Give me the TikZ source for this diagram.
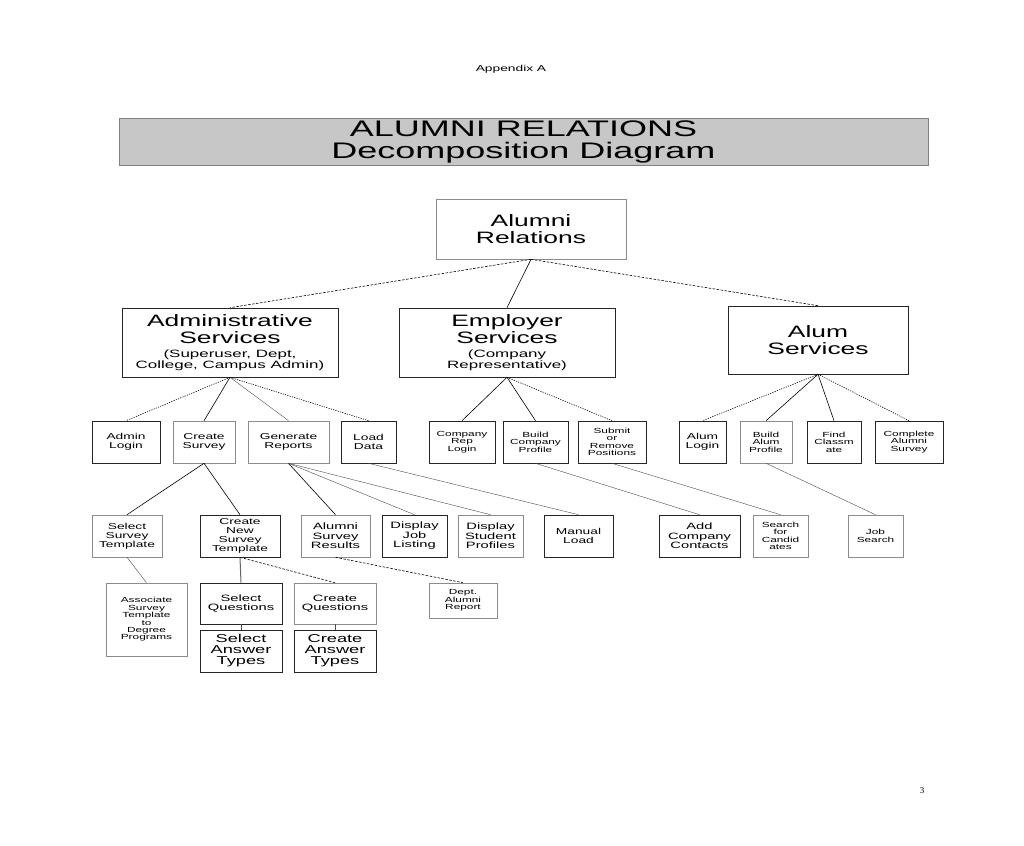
\documentclass[tikz,border=0pt]{standalone}
\usepackage{fontspec}
\setmainfont[FakeStretch=1.6]{Liberation Sans}
\newfontfamily\pagefont{Liberation Serif}
\newcommand{\subfont}{\fontsize{10.6}{11}\selectfont}
\usepackage{tikz}

\begin{document}
\begin{tikzpicture}[x=1pt, y=-1pt,
	box/.style={draw=black!85, line width=0.6pt, align=center, inner sep=0pt},
	gbox/.style={box, draw=black!45},
	row/.style={minimum height=42pt},
	fhead/.style={font=\fontsize{22.5}{22}\selectfont},
	fbig/.style={font=\fontsize{16.5}{17}\selectfont},
	flarge/.style={font=\fontsize{11.4}{11}\selectfont},
	fmid/.style={font=\fontsize{9.2}{9.4}\selectfont},
	fsmall/.style={font=\fontsize{8.6}{9}\selectfont},
	ftiny/.style={font=\fontsize{7.4}{7.4}\selectfont},
	link/.style={line width=0.6pt},
	flink/.style={line width=0.4pt, draw=black!70},
	dotlink/.style={line width=0.6pt, dash pattern=on 1.2pt off 1.2pt},
	dashlink/.style={line width=0.6pt, dash pattern=on 2.5pt off 1.5pt}]

	\fill[white] (0,0) rectangle (1024,845);
	\useasboundingbox (0,0) rectangle (1024,845);

	\node[fsmall] (appx) at (511,69) {Appendix A};
	\node[fhead, draw=black!50, fill=black!22, align=center, inner sep=0pt,
	      minimum width=809pt, minimum height=47pt] (title) at (523.5,141.5)
	      {ALUMNI RELATIONS\\Decomposition Diagram};

	% top two levels
	\node[gbox, fbig, minimum width=190pt, minimum height=60pt] (root) at (531,229) {Alumni\\Relations};
	\node[box, fbig, minimum width=216pt, minimum height=69pt] (admin) at (230,342.5)
	      {Administrative\\Services\\[-3pt]\subfont (Superuser, Dept,\\[-6pt]\subfont College, Campus Admin)};
	\node[box, fbig, minimum width=216pt, minimum height=69pt] (employer) at (507,342.5)
	      {Employer\\Services\\[-3pt]\subfont (Company\\[-6pt]\subfont Representative)};
	\node[box, fbig, minimum width=180pt, minimum height=68pt] (alum) at (818,340) {Alum\\Services};
	\draw[dashlink] (root.south) -- (admin.north);
	\draw[link]     (root.south) -- (employer.north);
	\draw[dashlink] (root.south) -- (alum.north);

	% services
	\node[box,  fsmall, row, minimum width=68pt] (alogin)    at (126,442)   {Admin\\Login};
	\node[gbox, fsmall, row, minimum width=62pt] (csurvey)   at (204,442)   {Create\\Survey};
	\node[gbox, fsmall, row, minimum width=81pt] (greports)  at (288.5,442) {Generate\\Reports};
	\node[box,  fsmall, row, minimum width=55pt] (ldata)     at (368.5,442) {Load\\Data};
	\node[box,  ftiny,  row, minimum width=66pt] (crlogin)   at (462,442)   {Company\\Rep\\Login};
	\node[box,  ftiny,  row, minimum width=65pt] (bcprofile) at (535.5,442) {Build\\Company\\Profile};
	\node[box,  ftiny,  row, minimum width=68pt] (subpos)    at (612,442)   {Submit\\or\\Remove\\Positions};
	\node[box,  fsmall, row, minimum width=47pt] (allogin)   at (702.5,442) {Alum\\Login};
	\node[gbox, ftiny,  row, minimum width=52pt] (baprofile) at (766,442)   {Build\\Alum\\Profile};
	\node[box,  ftiny,  row, minimum width=54pt] (fclass)    at (834,442)   {Find\\Classm\\ate};
	\node[box,  ftiny,  row, minimum width=68pt] (casurvey)  at (909,442)   {Complete\\Alumni\\Survey};
	\draw[dotlink] (admin.south) -- (alogin.north);
	\draw[link]    (admin.south) -- (csurvey.north);
	\draw[flink]   (admin.south) -- (greports.north);
	\draw[dotlink] (admin.south) -- (ldata.north);
	\draw[link]    (employer.south) -- (crlogin.north);
	\draw[link]    (employer.south) -- (bcprofile.north);
	\draw[dotlink] (employer.south) -- (subpos.north);
	\draw[dotlink] (alum.south) -- (allogin.north);
	\draw[link]    (alum.south) -- (baprofile.north);
	\draw[link]    (alum.south) -- (fclass.north);
	\draw[dotlink] (alum.south) -- (casurvey.north);

	% tasks
	\node[gbox, fsmall, row, minimum width=70pt] (stemplate) at (127,536)   {Select\\Survey\\Template};
	\node[box,  fsmall, row, minimum width=80pt] (ntemplate) at (240,536)   {Create\\New\\Survey\\Template};
	\node[gbox, fmid,   row, minimum width=69pt] (sresults)  at (335.5,536) {Alumni\\Survey\\Results};
	\node[box,  fmid,   row, minimum width=65pt] (jlisting)  at (414.5,536) {Display\\Job\\Listing};
	\node[gbox, fmid,   row, minimum width=65pt] (sprofiles) at (490.5,536) {Display\\Student\\Profiles};
	\node[box,  fsmall, row, minimum width=69pt] (mload)     at (578.5,536) {Manual\\Load};
	\node[box,  fmid,   row, minimum width=81pt] (ccontacts) at (699.5,536) {Add\\Company\\Contacts};
	\node[gbox, ftiny,  row, minimum width=55pt] (scand)     at (780.5,536) {Search\\for\\Candid\\ates};
	\node[gbox, ftiny,  row, minimum width=55pt] (jsearch)   at (875.5,536) {Job\\Search};
	\draw[link]  (csurvey.south) -- (stemplate.north);
	\draw[link]  (csurvey.south) -- (ntemplate.north);
	\draw[link]  (greports.south) -- (sresults.north);
	\draw[flink] (greports.south) -- (jlisting.north);
	\draw[flink] (greports.south) -- (sprofiles.north);
	\draw[flink] (ldata.south) -- (mload.north);
	\draw[flink] (bcprofile.south) -- (ccontacts.north);
	\draw[flink] (subpos.south) -- (scand.north);
	\draw[flink] (baprofile.south) -- (jsearch.north);

	% sub tasks
	\node[gbox, ftiny,  minimum width=81pt, minimum height=73pt] (assoc)   at (146.5,619.5)
	      {Associate\\Survey\\Template\\to\\Degree\\Programs};
	\node[box,  fmid,   minimum width=82pt, minimum height=41pt] (selq)    at (241,603.5) {Select\\Questions};
	\node[gbox, fmid,   minimum width=82pt, minimum height=41pt] (creq)    at (335,603.5) {Create\\Questions};
	\node[box,  flarge, minimum width=82pt, minimum height=42pt] (selans)  at (241,651)   {Select\\Answer\\Types};
	\node[box,  flarge, minimum width=82pt, minimum height=42pt] (creans)  at (335,651)   {Create\\Answer\\Types};
	\node[gbox, ftiny,  minimum width=68pt, minimum height=35pt] (dreport) at (463,600.5) {Dept.\\Alumni\\Report};
	\draw[flink]    (stemplate.south) -- (assoc.north);
	\draw[line width=1pt, draw=black!60] (ntemplate.south) -- (selq.north);
	\draw[dashlink] (ntemplate.south) -- (creq.north);
	\draw[dashlink] (sresults.south) -- (dreport.north);
	\draw[flink]    (selq.south) -- (selans.north);
	\draw[flink]    (creq.south) -- (creans.north);

	\node[font=\pagefont\fontsize{9}{9}\selectfont] (pnum) at (922,791) {3};
\end{tikzpicture}
\end{document}
